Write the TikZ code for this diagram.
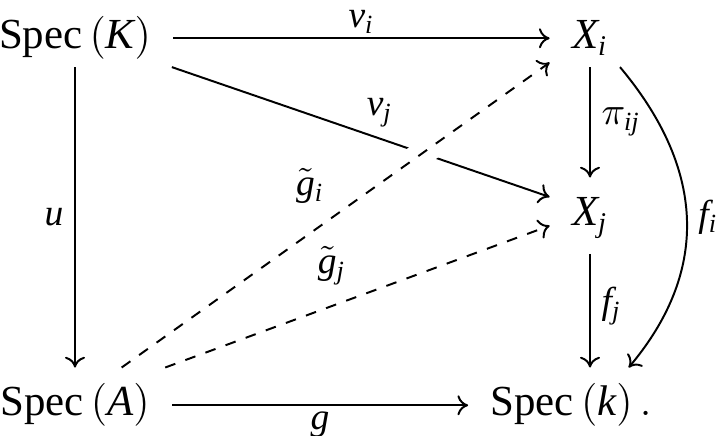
\documentclass[12pt,tikz,border=0pt]{standalone}
\usepackage[no-math]{fontspec}
\setmainfont{Liberation Serif}
\newfontfamily\timesfam{Liberation Serif}[NFSSFamily=timesrm]
\DeclareSymbolFont{timesit}{TU}{timesrm}{m}{it}
\DeclareMathSymbol{A}{\mathalpha}{timesit}{`A}
\DeclareMathSymbol{K}{\mathalpha}{timesit}{`K}
\DeclareMathSymbol{X}{\mathalpha}{timesit}{`X}
\DeclareMathSymbol{f}{\mathalpha}{timesit}{`f}
\DeclareMathSymbol{g}{\mathalpha}{timesit}{`g}
\DeclareMathSymbol{i}{\mathalpha}{timesit}{`i}
\DeclareMathSymbol{j}{\mathalpha}{timesit}{`j}
\DeclareMathSymbol{k}{\mathalpha}{timesit}{`k}
\DeclareMathSymbol{u}{\mathalpha}{timesit}{`u}
\DeclareMathSymbol{v}{\mathalpha}{timesit}{`v}
\usetikzlibrary{arrows.meta,calc}

\begin{document}
\begin{tikzpicture}[x=0.28pt,y=0.28pt,line width=0.55pt,obj/.style={anchor=base,inner xsep=6pt,inner ysep=3.3pt,text height=10pt,text depth=1.5pt},arr/.style={-{Computer Modern Rightarrow[length=3pt,width=5.6pt]},nodes={font=\fontsize{10.5}{12}\selectfont,inner sep=3pt}},dasharr/.style={arr,dashed},over/.style={preaction={draw=white,line width=7pt,solid,-}}]
\useasboundingbox (0,0) rectangle (723,436);
\fill[white] (0,0) rectangle (723,436);

\node[obj] (SpecK) at (75,387) {$\textrm{Spec}\,(K)$}; \node[obj] (Xi) at (590,387) {$X_i$};
\node[obj] (Xj) at (590,210) {$X_j$};
\node[obj] (SpecA) at (75,20) {$\textrm{Spec}\,(A)$}; \node[obj] (Speck) at (571,20) {$\textrm{Spec}\,(k)\,.$};

\draw[arr] ([yshift=3pt]SpecK.base east) -- node[above,inner sep=1pt] {$v_i$} ([yshift=3pt]Xi.base west);
\draw[arr] (SpecK) -- node[left] {$u$} (SpecA);
\draw[arr] (Xi) -- node[right] {$\pi_{ij}$} (Xj);
\draw[arr,shorten <=2.7pt] (Xj) -- node[right] {$f_j$} (Xj |- Speck.north);
\draw[arr] ([yshift=3pt]SpecA.base east) -- node[below,inner sep=1.5pt] {$g$} ([yshift=3pt]Speck.base west);
\draw[arr] (SpecK) -- node[pos=.55,above] {$v_j$} (Xj);
\draw[dasharr,over] (SpecA) -- node[midway,above left] {$\tilde g_i$} (Xi);
\draw[dasharr] (SpecA) -- node[pos=.5,above left] {$\tilde g_j$} (Xj);
\draw[arr] (Xi.-48) to[out=-50,in=50,looseness=1.1] node[right] {$f_i$} (Speck.30);

\end{tikzpicture}
\end{document}
